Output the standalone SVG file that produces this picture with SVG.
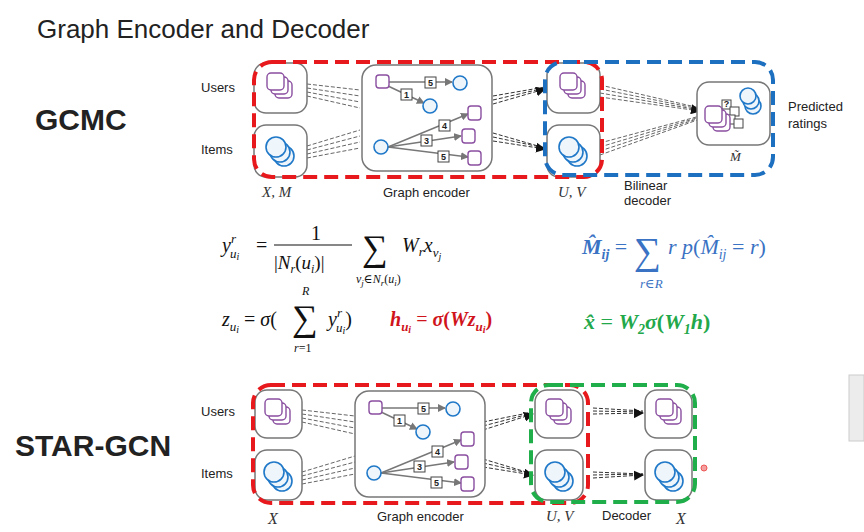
<svg xmlns="http://www.w3.org/2000/svg" width="864" height="532" viewBox="0 0 864 532">
<defs>
<style>
.t{font-family:"Liberation Sans",Arial,sans-serif;fill:#222}
.m{font-family:"Liberation Serif","DejaVu Serif",serif;font-style:italic}
.box{fill:#fff;stroke:#777;stroke-width:1.5}
.us{fill:#fff;stroke:#8a4fa0;stroke-width:1.4}
.it{fill:#eef5fb;stroke:#1f78c8;stroke-width:1.6}
.dl{stroke:#666;stroke-width:1;stroke-dasharray:4 2;fill:none}
.da{stroke:#333;stroke-width:1;stroke-dasharray:4 2;fill:none}
.ed{stroke:#777;stroke-width:1.4;fill:none;marker-end:url(#ga)}
.lb{fill:#fff;stroke:#444;stroke-width:1}
.lt{font-family:"Liberation Sans",Arial,sans-serif;font-size:9px;font-weight:bold;text-anchor:middle;fill:#222}
.red{fill:none;stroke:#e8191d;stroke-width:4;stroke-dasharray:14 7}
.blue{fill:none;stroke:#1d6fc0;stroke-width:4;stroke-dasharray:14 7}
.green{fill:none;stroke:#1fae4a;stroke-width:4;stroke-dasharray:14 7}
</style>
<marker id="ga" markerWidth="8" markerHeight="8" refX="7" refY="4" orient="auto" markerUnits="userSpaceOnUse"><path d="M0,0L8,4L0,8z" fill="#777"/></marker>
<marker id="ba" markerWidth="10" markerHeight="10" refX="9" refY="5" orient="auto" markerUnits="userSpaceOnUse"><path d="M0,0L10,5L0,10z" fill="#111"/></marker>
<g id="ustack"><rect class="us" x="-6" y="-6" width="17" height="17" rx="4"/><rect class="us" x="-10" y="-10" width="17" height="17" rx="4"/><rect class="us" x="-14" y="-14" width="17" height="17" rx="4"/></g>
<g id="istack"><circle class="it" cx="4" cy="6" r="10"/><circle class="it" cx="0" cy="2" r="10"/><circle class="it" cx="-4" cy="-3" r="10"/></g>
<g id="enc">
<rect class="box" x="0" y="0" width="130" height="106" rx="14"/>
<path class="ed" d="M26 17H90"/><path class="ed" d="M26 21L62 38"/>
<path class="ed" d="M26 82L106 49"/><path class="ed" d="M26 82L99 71"/><path class="ed" d="M26 82L106 92"/>
<rect class="us" x="14" y="10" width="13" height="13" rx="3"/>
<circle class="it" cx="98" cy="18" r="7"/><circle class="it" cx="68" cy="41" r="7"/>
<circle class="it" cx="19" cy="82" r="7"/>
<rect class="us" x="106" y="41" width="13" height="14" rx="3"/><rect class="us" x="100" y="64" width="13" height="14" rx="3"/><rect class="us" x="106" y="86" width="13" height="14" rx="3"/>
<rect class="lb" x="63" y="12" width="11" height="11"/><text class="lt" x="68.5" y="21">5</text>
<rect class="lb" x="39" y="24" width="11" height="11"/><text class="lt" x="44.5" y="33">1</text>
<rect class="lb" x="77" y="55" width="11" height="11"/><text class="lt" x="82.5" y="64">4</text>
<rect class="lb" x="59" y="70" width="11" height="11"/><text class="lt" x="64.5" y="79">3</text>
<rect class="lb" x="76" y="86" width="11" height="11"/><text class="lt" x="81.5" y="95">5</text>
</g>
</defs>
<rect width="864" height="532" fill="#fff"/>
<rect x="849" y="375" width="15" height="66" fill="#ececec" stroke="#ccc"/>
<text class="t" x="37" y="38" font-size="26">Graph Encoder and Decoder</text>
<text class="t" x="35" y="130" font-size="30" font-weight="bold">GCMC</text>
<text class="t" x="15" y="456" font-size="30" font-weight="bold">STAR-GCN</text>

<g id="connectors">
<path class="dl" d="M307 84L360 90M307 88L360 96M307 92L360 102M307 96L360 108"/>
<path class="dl" d="M307 146L360 130M307 150L360 136M307 154L360 142M307 158L360 148"/>
<path class="da" d="M493 96L545 87M493 100L545 88M493 104L545 89" marker-end="url(#ba)"/>
<path class="da" d="M493 133L545 148M493 137L545 148M493 141L545 149" marker-end="url(#ba)"/>
<path class="dl" d="M600 85L700 108M600 89L700 109M600 93L700 110M600 97L700 111" stroke="#333"/>
<path class="dl" d="M600 143L700 116M600 147L700 117M600 151L700 118M600 155L700 119" stroke="#333"/>
<path class="da" d="M695 110L700 111" marker-end="url(#ba)"/>
<path class="dl" d="M302 410L355 416M302 414L355 422M302 418L355 428M302 422L355 434"/>
<path class="dl" d="M302 472L355 456M302 476L355 462M302 480L355 468M302 484L355 474"/>
<path class="da" d="M483 422L533 412M483 426L533 413M483 430L533 414" marker-end="url(#ba)"/>
<path class="da" d="M483 459L533 474M483 463L533 474M483 467L533 475" marker-end="url(#ba)"/>
<path class="da" d="M593 408L643 411M593 411L643 412M593 414L643 413" marker-end="url(#ba)"/>
<path class="da" d="M593 472L643 474M593 475L643 474M593 478L643 475" marker-end="url(#ba)"/>
</g>

<g id="gcmc-users"><rect class="box" x="254" y="63" width="53" height="50" rx="12"/><use href="#ustack" x="281" y="87"/></g>
<g id="gcmc-items"><rect class="box" x="254" y="125" width="53" height="52" rx="12"/><use href="#istack" x="280" y="150"/></g>
<g id="gcmc-encoder"><use href="#enc" x="362" y="65"/></g>
<g id="gcmc-U"><rect class="box" x="547" y="63" width="53" height="50" rx="12"/><use href="#ustack" x="574" y="87"/></g>
<g id="gcmc-V"><rect class="box" x="547" y="125" width="53" height="52" rx="12"/><use href="#istack" x="573" y="150"/></g>
<g id="gcmc-M"><rect class="box" x="697" y="82" width="73" height="63" rx="12"/>
<rect class="lb" x="722" y="100" width="9" height="9"/><text class="lt" x="726.5" y="107" font-size="7">?</text>
<rect class="lb" x="730" y="107" width="9" height="9"/><rect class="lb" x="726" y="115" width="9" height="9"/><rect class="lb" x="734" y="119" width="9" height="9"/>
<use href="#ustack" x="719" y="120"/>
<circle class="it" cx="753" cy="106" r="8"/><circle class="it" cx="751" cy="101" r="8"/><circle class="it" cx="748" cy="96" r="8"/>
</g>
<rect class="red" x="254" y="62" width="348" height="115" rx="18"/>
<rect class="blue" x="545" y="62" width="228" height="113" rx="18"/>
<text class="t" x="201" y="92" font-size="13">Users</text>
<text class="t" x="201" y="154" font-size="13">Items</text>
<text class="t" x="788" y="111" font-size="13">Predicted</text>
<text class="t" x="788" y="128" font-size="13">ratings</text>
<text class="m" x="262" y="197" font-size="15" fill="#333">X, M</text>
<text class="t" x="383" y="197" font-size="13">Graph encoder</text>
<text class="m" x="558" y="197" font-size="15" fill="#333">U, V</text>
<text class="m" x="730" y="161" font-size="13" fill="#333">M̃</text>
<text class="t" x="624" y="190" font-size="13">Bilinear</text>
<text class="t" x="624" y="205" font-size="13">decoder</text>

<g font-family="'Liberation Serif','DejaVu Serif',serif" font-style="italic" fill="#111">
<text x="222" y="252" font-size="20">y<tspan font-size="13" dy="-9">r</tspan><tspan font-size="13" dx="-6" dy="15">u</tspan><tspan font-size="10" dy="2">i</tspan></text>
<text x="256" y="252" font-size="20" font-style="normal">=</text>
<text x="311" y="240" font-size="20" font-style="normal">1</text>
<line x1="274" y1="245" x2="352" y2="245" stroke="#111" stroke-width="1.2"/>
<text x="274" y="269" font-size="19"><tspan font-style="normal">|</tspan>N<tspan font-size="12" dy="4">r</tspan><tspan dy="-4" font-style="normal">(</tspan>u<tspan font-size="12" dy="4">i</tspan><tspan dy="-4" font-style="normal">)|</tspan></text>
<text x="362" y="260" font-size="36" font-style="normal">∑</text>
<text x="356" y="283" font-size="12">v<tspan font-size="9" dy="3">j</tspan><tspan dy="-3" font-style="normal">∈</tspan>N<tspan font-size="9" dy="3">r</tspan><tspan dy="-3" font-style="normal">(</tspan>u<tspan font-size="9" dy="3">i</tspan><tspan dy="-3" font-style="normal">)</tspan></text>
<text x="402" y="252" font-size="20">W<tspan font-size="13" dy="4">r</tspan><tspan dy="-4">x</tspan><tspan font-size="13" dy="5">v</tspan><tspan font-size="10" dy="3">j</tspan></text>
<text x="222" y="326" font-size="20">z<tspan font-size="13" dy="5">u</tspan><tspan font-size="10" dy="2">i</tspan><tspan font-size="20" dy="-7" font-style="normal"> = </tspan>σ<tspan font-style="normal">(</tspan></text>
<text x="292" y="330" font-size="36" font-style="normal">∑</text>
<text x="302" y="295" font-size="12">R</text>
<text x="294" y="352" font-size="12">r<tspan font-style="normal">=1</tspan></text>
<text x="328" y="326" font-size="20">y<tspan font-size="13" dy="-9">r</tspan><tspan font-size="13" dx="-6" dy="15">u</tspan><tspan font-size="10" dy="2">i</tspan><tspan font-size="20" dy="-8" font-style="normal">)</tspan></text>
<text x="390" y="326" font-size="20" fill="#d0141c" font-weight="bold">h<tspan font-size="13" dy="5">u</tspan><tspan font-size="10" dy="2">i</tspan><tspan dy="-7" font-weight="normal" font-style="normal"> = </tspan>σ<tspan font-style="normal">(</tspan>Wz<tspan font-size="13" dy="5">u</tspan><tspan font-size="10" dy="2">i</tspan><tspan dy="-7" font-style="normal">)</tspan></text>
<text x="582" y="254" font-size="22" fill="#3a72c4" font-weight="bold">M̂<tspan font-size="14" dy="5">ij</tspan><tspan dy="-5" font-weight="normal" font-style="normal"> =</tspan></text>
<text x="634" y="264" font-size="38" fill="#3a72c4" font-style="normal">∑</text>
<text x="640" y="288" font-size="13" fill="#3a72c4">r<tspan font-style="normal">∈</tspan>R</text>
<text x="668" y="254" font-size="22" fill="#3a72c4">r p<tspan font-style="normal">(</tspan>M̂<tspan font-size="14" dy="5">ij</tspan><tspan dy="-5" font-style="normal"> = </tspan>r<tspan font-style="normal">)</tspan></text>
<text x="584" y="329" font-size="22" fill="#22a84a" font-weight="bold">x̂ <tspan font-weight="normal" font-style="normal">= </tspan>W<tspan font-size="14" dy="5">2</tspan><tspan dy="-5">σ</tspan><tspan font-style="normal">(</tspan>W<tspan font-size="14" dy="5">1</tspan><tspan dy="-5">h</tspan><tspan font-style="normal">)</tspan></text>
</g>

<g id="star-users"><rect class="box" x="255" y="390" width="47" height="48" rx="12"/><use href="#ustack" x="279" y="413"/></g>
<g id="star-items"><rect class="box" x="255" y="450" width="47" height="50" rx="12"/><use href="#istack" x="278" y="475"/></g>
<g id="star-encoder"><use href="#enc" x="355" y="391"/></g>
<g id="star-U"><rect class="box" x="535" y="390" width="48" height="48" rx="12"/><use href="#ustack" x="560" y="413"/></g>
<g id="star-V"><rect class="box" x="535" y="450" width="48" height="50" rx="12"/><use href="#istack" x="559" y="475"/></g>
<g id="star-XU"><rect class="box" x="645" y="390" width="47" height="48" rx="12"/><use href="#ustack" x="670" y="413"/></g>
<g id="star-XI"><rect class="box" x="645" y="450" width="47" height="50" rx="12"/><use href="#istack" x="669" y="475"/></g>
<circle cx="704" cy="468" r="3" fill="#f4a0a0" stroke="#e55" stroke-width="1"/>
<rect class="red" x="253" y="385" width="335" height="118" rx="18"/>
<rect class="green" x="531" y="385" width="164" height="117" rx="18"/>
<text class="t" x="201" y="416" font-size="13">Users</text>
<text class="t" x="201" y="478" font-size="13">Items</text>
<text class="m" x="268" y="524" font-size="16" fill="#333">X</text>
<text class="t" x="377" y="521" font-size="13">Graph encoder</text>
<text class="m" x="546" y="521" font-size="15" fill="#333">U, V</text>
<text class="t" x="602" y="520" font-size="13">Decoder</text>
<text class="m" x="676" y="524" font-size="16" fill="#333">X</text>
</svg>
